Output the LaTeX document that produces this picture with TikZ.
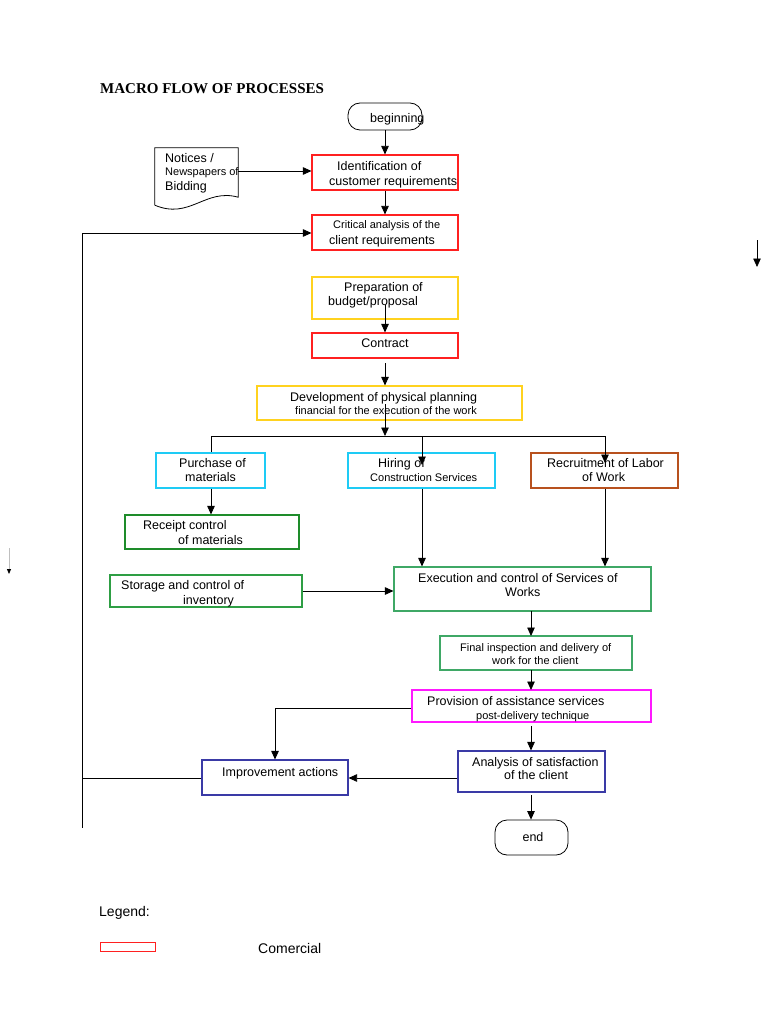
\documentclass[tikz,border=0pt]{standalone}
\usepackage{fontspec}
\setmainfont{Liberation Sans}
\newfontfamily\titlefont{Liberation Serif}
\usetikzlibrary{arrows.meta}
\definecolor{cred}{HTML}{FF2020}
\definecolor{cyel}{HTML}{FFD21F}
\definecolor{ccyan}{HTML}{1ECBF5}
\definecolor{cbrown}{HTML}{B8511E}
\definecolor{cgreenA}{HTML}{1E8C2A}
\definecolor{cgreenB}{HTML}{2E9E44}
\definecolor{cgreenC}{HTML}{3FA866}
\definecolor{cmag}{HTML}{FF19FF}
\definecolor{cnavy}{HTML}{3A3AA6}
\tikzset{
  box/.style={draw=#1, line width=1.1pt, inner sep=0pt, fill=white},
  txt/.style={inner sep=0pt, anchor=west, text height=10pt, text depth=1pt, font=\fontsize{12.5}{14}\selectfont},
  stxt/.style={inner sep=0pt, anchor=west, text height=9pt, text depth=1pt, font=\fontsize{11}{13}\selectfont},
  ltxt/.style={inner sep=0pt, anchor=west, text height=11pt, text depth=1pt, font=\fontsize{14}{16}\selectfont},
  conn/.style={draw=black, line width=0.8pt},
  arr/.style={conn, -{Triangle[length=8.5pt,width=7.5pt]}},
}
\begin{document}
\begin{tikzpicture}[x=1pt,y=-1pt]
\useasboundingbox (0,0) rectangle (768,1024);
\fill[white] (0,0) rectangle (768,1024);

% title
\node[inner sep=0pt, anchor=west, font=\titlefont\bfseries\fontsize{15}{17}\selectfont] (title) at (100,89) {MACRO FLOW OF PROCESSES};

% boxes
\node[draw=black, line width=0.8pt, rounded corners=12pt, minimum width=74pt, minimum height=27pt, inner sep=0pt] (begin) at (385,116.5) {};
\node[txt] (beginT) at (370,118) {beginning};

\node[inner sep=0pt, minimum width=83pt, minimum height=57pt] (doc) at (196.5,176.5) {};
\draw[conn] (doc.south west) -- (doc.north west) -- (doc.north east) -- ([yshift=8pt]doc.south east)
  .. controls (205,188) and (190,220) .. (doc.south west);
\node[txt] (docT1) at (165,158) {Notices /};
\node[stxt] (docT2) at (165,172) {Newspapers of};
\node[txt] (docT3) at (165,186) {Bidding};

\node[box=cred, minimum width=146pt, minimum height=35pt] (ident) at (385,172.5) {};
\node[txt] (identT1) at (337,166) {Identification of};
\node[txt] (identT2) at (329,181) {customer requirements};

\node[box=cred, minimum width=146pt, minimum height=35pt] (crit) at (385,232.5) {};
\node[stxt] (critT1) at (333,225) {Critical analysis of the};
\node[txt] (critT2) at (329,240) {client requirements};

\node[box=cyel, minimum width=146pt, minimum height=42pt] (prep) at (385,298) {};
\node[txt] (prepT1) at (344,287) {Preparation of};
\node[txt] (prepT2) at (328,301) {budget/proposal};

\node[box=cred, minimum width=146pt, minimum height=25pt] (contr) at (385,345.5) {};
\node[txt, anchor=center] (contrT) at (385,343) {Contract};

\node[box=cyel, minimum width=265pt, minimum height=34pt] (dev) at (389.5,403) {};
\node[txt] (devT1) at (290,397) {Development of physical planning};
\node[stxt] (devT2) at (295,410) {financial for the execution of the work};

\node[box=ccyan, minimum width=109pt, minimum height=35pt] (purch) at (210.5,470.5) {};
\node[txt] (purchT1) at (179,463) {Purchase of};
\node[txt] (purchT2) at (185,477) {materials};

\node[box=ccyan, minimum width=147pt, minimum height=35pt] (hire) at (421.5,470.5) {};
\node[txt] (hireT1) at (378,463) {Hiring of};
\node[stxt] (hireT2) at (370,477) {Construction Services};

\node[box=cbrown, minimum width=147pt, minimum height=35pt] (recr) at (604.5,470.5) {};
\node[txt] (recrT1) at (547,463) {Recruitment of Labor};
\node[txt] (recrT2) at (582,477) {of Work};

\node[box=cgreenA, minimum width=174pt, minimum height=34pt] (rec) at (212,532) {};
\node[txt] (recT1) at (143,525) {Receipt control};
\node[txt] (recT2) at (178,540) {of materials};

\node[box=cgreenB, minimum width=192pt, minimum height=32pt] (stor) at (206,591) {};
\node[txt] (storT1) at (121,585) {Storage and control of};
\node[txt] (storT2) at (183,600) {inventory};

\node[box=cgreenC, minimum width=257pt, minimum height=44pt] (exec) at (522.5,589) {};
\node[txt] (execT1) at (418,578) {Execution and control of Services of};
\node[txt] (execT2) at (505,592) {Works};

\node[box=cgreenC, minimum width=192pt, minimum height=34pt] (final) at (536,653) {};
\node[stxt] (finalT1) at (460,647) {Final inspection and delivery of};
\node[stxt] (finalT2) at (492,660) {work for the client};

\node[box=cmag, minimum width=239pt, minimum height=32pt] (prov) at (531.5,706) {};
\node[txt] (provT1) at (427,701) {Provision of assistance services};
\node[stxt] (provT2) at (476,715) {post-delivery technique};

\node[box=cnavy, minimum width=147pt, minimum height=41pt] (anal) at (531.5,771.5) {};
\node[txt] (analT1) at (472,762) {Analysis of satisfaction};
\node[txt] (analT2) at (504,775) {of the client};

\node[box=cnavy, minimum width=146pt, minimum height=35pt] (impr) at (275,777.5) {};
\node[txt] (imprT) at (222,772) {Improvement actions};

\node[draw=black, line width=0.8pt, rounded corners=12pt, minimum width=73pt, minimum height=35pt, inner sep=0pt] (endn) at (531.5,837.5) {};
\node[txt, anchor=center] (endT) at (533,837) {end};

% legend
\node[ltxt] (legT) at (99,911) {Legend:};
\node[draw=cred, line width=1pt, minimum width=55pt, minimum height=9pt, inner sep=0pt] (legbox) at (127.5,946.5) {};
\node[ltxt] (legC) at (258,948) {Comercial};

% coordinates
\coordinate (docOut) at (238,171);
\coordinate (fbTop) at (82,233);
\coordinate (fbBot) at (82,828);
\coordinate (fbMid) at (82,778);
\coordinate (prepIn) at (385,305);
\coordinate (contrOut) at (385,363);
\coordinate (devIn) at (385,404);
\coordinate (jC) at (385,436);
\coordinate (jL) at (211,436);
\coordinate (jM) at (422,436);
\coordinate (jR) at (605,436);
\coordinate (hireIn) at (422,465);
\coordinate (recrIn) at (605,463);
\coordinate (execOut) at (531,611);
\coordinate (finalIn) at (531,636);
\coordinate (finalOut) at (531,670);
\coordinate (provIn) at (531,690);
\coordinate (provOut) at (531,726);
\coordinate (analOut) at (531,795);
\coordinate (provL) at (275,708);
\coordinate (strayRa) at (757,240);
\coordinate (strayRb) at (757,267);
\coordinate (strayLa) at (9,548);
\coordinate (strayLb) at (9,574);

% connectors
\draw[arr] (begin.south) -- (ident.north);
\draw[arr] (docOut) -- (ident.west |- docOut);
\draw[arr] (ident.south) -- (crit.north);
\draw[arr] (fbMid) -- (fbTop) -- (crit.west |- fbTop);
\draw[conn] (fbMid) -- (fbBot);
\draw[conn] (impr.west |- fbMid) -- (fbMid);
\draw[arr] (prepIn) -- (contr.north);
\draw[arr] (contrOut) -- (dev.north -| contrOut);
\draw[arr] (devIn) -- (jC);
\draw[conn] (jL) -- (jR);
\draw[conn] (jL) -- (purch.north -| jL);
\draw[arr] (jM) -- (hireIn);
\draw[arr] (jR) -- (recrIn);
\draw[arr] (purch.south -| jL) -- (rec.north -| jL);
\draw[arr] (hire.south -| jM) -- (exec.north -| jM);
\draw[arr] (recr.south -| jR) -- (exec.north -| jR);
\draw[arr] (stor.east) -- (exec.west |- stor.east);
\draw[arr] (execOut) -- (finalIn);
\draw[arr] (finalOut) -- (provIn);
\draw[arr] (provOut) -- (anal.north -| provOut);
\draw[conn] (prov.west |- provL) -- (provL);
\draw[arr] (provL) -- (impr.north);
\draw[arr] (anal.west |- fbMid) -- (impr.east |- fbMid);
\draw[arr] (analOut) -- (endn.north -| analOut);
\draw[arr] (strayRa) -- (strayRb);
\draw[conn, draw=black!25, -{Triangle[length=5pt,width=4pt,color=black]}] (strayLa) -- (strayLb);
\end{tikzpicture}
\end{document}
